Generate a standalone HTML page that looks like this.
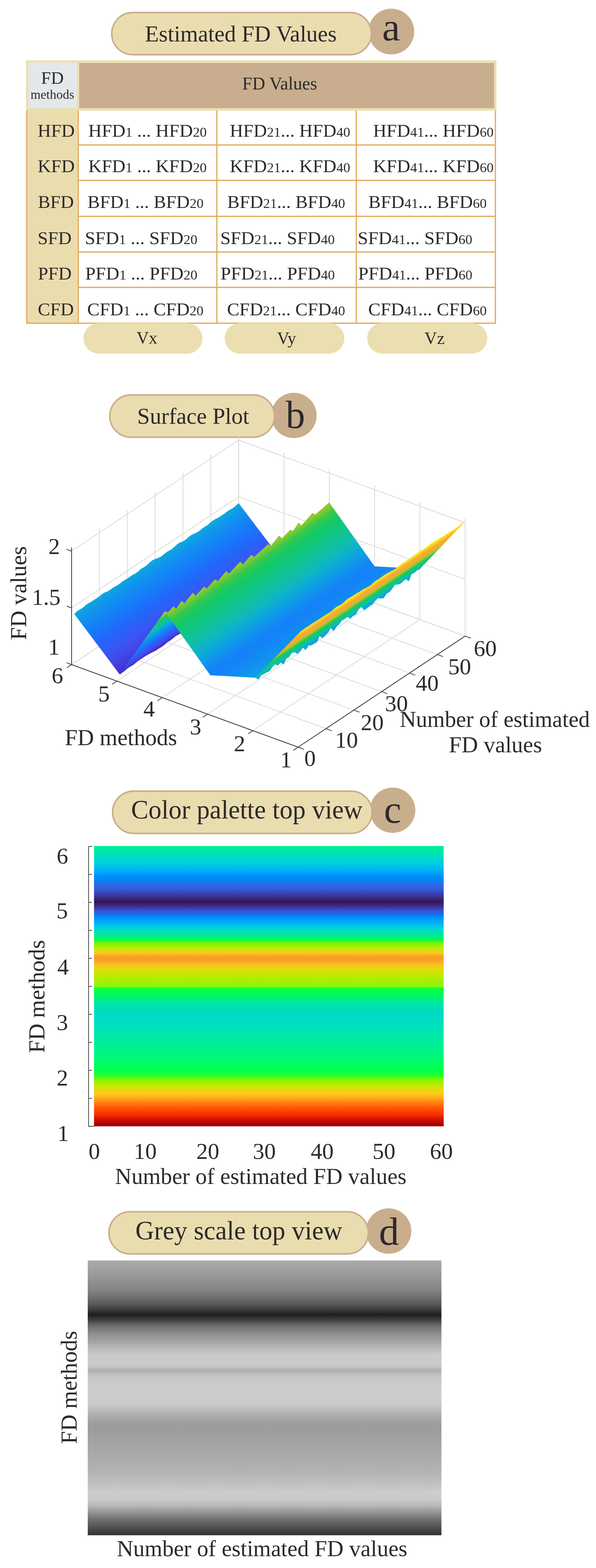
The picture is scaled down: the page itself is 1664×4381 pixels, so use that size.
<!DOCTYPE html>
<html><head><meta charset="utf-8"><title>FD figure</title>
<style>html,body{margin:0;padding:0;background:#fff;}svg{display:block;}</style></head>
<body><svg width="1664" height="4381" viewBox="0 0 1664 4381" font-family='"Liberation Serif", "Times New Roman", serif'>
<defs><linearGradient id="g1" gradientUnits="userSpaceOnUse" x1="559.6" y1="1731.9" x2="443.3" y2="1557.1"><stop offset="0.00" stop-color="#4030c8"/><stop offset="0.10" stop-color="#433cde"/><stop offset="0.20" stop-color="#4249eb"/><stop offset="0.30" stop-color="#3b54f3"/><stop offset="0.40" stop-color="#2f5df8"/><stop offset="0.50" stop-color="#2367f9"/><stop offset="0.60" stop-color="#1b72f9"/><stop offset="0.70" stop-color="#157ef8"/><stop offset="0.80" stop-color="#1388f4"/><stop offset="0.90" stop-color="#1096eb"/><stop offset="1.00" stop-color="#0ca8dd"/></linearGradient><linearGradient id="g2" gradientUnits="userSpaceOnUse" x1="686.1" y1="1565.8" x2="723.8" y2="1622.6"><stop offset="0.00" stop-color="#96c82e"/><stop offset="0.10" stop-color="#1ec85d"/><stop offset="0.20" stop-color="#10c682"/><stop offset="0.30" stop-color="#10bea8"/><stop offset="0.40" stop-color="#0dadd2"/><stop offset="0.50" stop-color="#1191ef"/><stop offset="0.60" stop-color="#157ef8"/><stop offset="0.70" stop-color="#216afa"/><stop offset="0.80" stop-color="#3558f6"/><stop offset="0.90" stop-color="#4346e8"/><stop offset="1.00" stop-color="#4030c8"/></linearGradient><linearGradient id="g3" gradientUnits="userSpaceOnUse" x1="812.6" y1="1736.0" x2="695.2" y2="1559.7"><stop offset="0.00" stop-color="#1481f8"/><stop offset="0.10" stop-color="#128af3"/><stop offset="0.20" stop-color="#0f9be8"/><stop offset="0.30" stop-color="#0dabd6"/><stop offset="0.40" stop-color="#0fb7bd"/><stop offset="0.50" stop-color="#10bfa5"/><stop offset="0.60" stop-color="#10c48e"/><stop offset="0.70" stop-color="#11c679"/><stop offset="0.80" stop-color="#14c865"/><stop offset="0.90" stop-color="#38c849"/><stop offset="1.00" stop-color="#96c82e"/></linearGradient><linearGradient id="g4" gradientUnits="userSpaceOnUse" x1="939.1" y1="1749.6" x2="894.0" y2="1681.9"><stop offset="0.00" stop-color="#0ca6df"/><stop offset="0.10" stop-color="#0da2e3"/><stop offset="0.20" stop-color="#0e9de6"/><stop offset="0.30" stop-color="#0f98ea"/><stop offset="0.40" stop-color="#1093ed"/><stop offset="0.50" stop-color="#118ef0"/><stop offset="0.60" stop-color="#128bf3"/><stop offset="0.70" stop-color="#1388f4"/><stop offset="0.80" stop-color="#1386f5"/><stop offset="0.90" stop-color="#1383f6"/><stop offset="1.00" stop-color="#1481f8"/></linearGradient><linearGradient id="g5" gradientUnits="userSpaceOnUse" x1="1065.6" y1="1612.8" x2="1089.9" y2="1649.3"><stop offset="0.00" stop-color="#fae916"/><stop offset="0.10" stop-color="#facd28"/><stop offset="0.20" stop-color="#f8ad30"/><stop offset="0.30" stop-color="#f4a835"/><stop offset="0.40" stop-color="#ddb533"/><stop offset="0.50" stop-color="#95c82e"/><stop offset="0.60" stop-color="#27c856"/><stop offset="0.70" stop-color="#11c678"/><stop offset="0.80" stop-color="#10c298"/><stop offset="0.90" stop-color="#0fb8bb"/><stop offset="1.00" stop-color="#0ca6df"/></linearGradient><linearGradient id="hc" x1="0" y1="0" x2="0" y2="1"><stop offset="0.0003" stop-color="#00f090"/><stop offset="0.0347" stop-color="#00e0c0"/><stop offset="0.0608" stop-color="#00d0e0"/><stop offset="0.0869" stop-color="#00b0f8"/><stop offset="0.1079" stop-color="#0090f8"/><stop offset="0.1274" stop-color="#0080f8"/><stop offset="0.1300" stop-color="#2870e8"/><stop offset="0.1496" stop-color="#3060e0"/><stop offset="0.1651" stop-color="#3848c0"/><stop offset="0.1809" stop-color="#3a3090"/><stop offset="0.1992" stop-color="#341650"/><stop offset="0.2123" stop-color="#3a2880"/><stop offset="0.2225" stop-color="#3c40b0"/><stop offset="0.2327" stop-color="#3058d8"/><stop offset="0.2436" stop-color="#2868e8"/><stop offset="0.2461" stop-color="#0080f8"/><stop offset="0.2698" stop-color="#00a8f8"/><stop offset="0.2825" stop-color="#00c0f0"/><stop offset="0.2958" stop-color="#00d8d0"/><stop offset="0.3141" stop-color="#00e8a0"/><stop offset="0.3323" stop-color="#00f468"/><stop offset="0.3374" stop-color="#10ff40"/><stop offset="0.3412" stop-color="#60f010"/><stop offset="0.3610" stop-color="#b0f000"/><stop offset="0.3719" stop-color="#d8e010"/><stop offset="0.3808" stop-color="#f8c820"/><stop offset="0.3910" stop-color="#f8a828"/><stop offset="0.4013" stop-color="#f89c20"/><stop offset="0.4115" stop-color="#f8a828"/><stop offset="0.4230" stop-color="#f8c020"/><stop offset="0.4370" stop-color="#e8d810"/><stop offset="0.4549" stop-color="#c8e800"/><stop offset="0.4785" stop-color="#a8f000"/><stop offset="0.5021" stop-color="#88f410"/><stop offset="0.5072" stop-color="#10ff38"/><stop offset="0.5324" stop-color="#00f860"/><stop offset="0.5583" stop-color="#00e8a0"/><stop offset="0.5976" stop-color="#00d8c8"/><stop offset="0.6368" stop-color="#00e0c0"/><stop offset="0.6757" stop-color="#00e8a8"/><stop offset="0.7153" stop-color="#00f090"/><stop offset="0.7542" stop-color="#00f878"/><stop offset="0.7932" stop-color="#00ff50"/><stop offset="0.8213" stop-color="#20ff30"/><stop offset="0.8251" stop-color="#60f800"/><stop offset="0.8455" stop-color="#a8f000"/><stop offset="0.8634" stop-color="#d8e000"/><stop offset="0.8822" stop-color="#ffc820"/><stop offset="0.9004" stop-color="#ffa818"/><stop offset="0.9157" stop-color="#ff8010"/><stop offset="0.9369" stop-color="#ff5000"/><stop offset="0.9579" stop-color="#f83000"/><stop offset="0.9757" stop-color="#d01000"/><stop offset="0.9944" stop-color="#a00000"/><stop offset="1.0000" stop-color="#980000"/></linearGradient><linearGradient id="hd" x1="0" y1="0" x2="0" y2="1"><stop offset="0.0003" stop-color="#aaaaaa"/><stop offset="0.0247" stop-color="#a3a3a3"/><stop offset="0.0646" stop-color="#959595"/><stop offset="0.1046" stop-color="#858585"/><stop offset="0.1313" stop-color="#727272"/><stop offset="0.1580" stop-color="#5a5a5a"/><stop offset="0.1792" stop-color="#3c3c3c"/><stop offset="0.1978" stop-color="#1e1e1e"/><stop offset="0.2166" stop-color="#404040"/><stop offset="0.2378" stop-color="#6c6c6c"/><stop offset="0.2644" stop-color="#8c8c8c"/><stop offset="0.2908" stop-color="#a0a0a0"/><stop offset="0.3177" stop-color="#b8b8b8"/><stop offset="0.3442" stop-color="#cacaca"/><stop offset="0.3709" stop-color="#cccccc"/><stop offset="0.3885" stop-color="#c4c4c4"/><stop offset="0.3989" stop-color="#b0b0b0"/><stop offset="0.4041" stop-color="#b0b0b0"/><stop offset="0.4146" stop-color="#c0c0c0"/><stop offset="0.4276" stop-color="#c6c6c6"/><stop offset="0.4509" stop-color="#cbcbcb"/><stop offset="0.4908" stop-color="#cdcdcd"/><stop offset="0.5197" stop-color="#cccccc"/><stop offset="0.5461" stop-color="#bababa"/><stop offset="0.5729" stop-color="#a8a8a8"/><stop offset="0.5995" stop-color="#9c9c9c"/><stop offset="0.6262" stop-color="#9e9e9e"/><stop offset="0.6659" stop-color="#a4a4a4"/><stop offset="0.7193" stop-color="#ababab"/><stop offset="0.7727" stop-color="#b4b4b4"/><stop offset="0.8126" stop-color="#c0c0c0"/><stop offset="0.8392" stop-color="#cccccc"/><stop offset="0.8659" stop-color="#cccccc"/><stop offset="0.8926" stop-color="#b8b8b8"/><stop offset="0.9191" stop-color="#909090"/><stop offset="0.9458" stop-color="#6c6c6c"/><stop offset="0.9724" stop-color="#505050"/><stop offset="1.0000" stop-color="#303030"/></linearGradient></defs>
<rect width="1664" height="4381" fill="#fff"/>
<circle cx="1092.5" cy="88.2" r="64.0" fill="#c9ae8d"/>
<rect x="312.0" y="35.0" width="724.8" height="117.8" rx="58.9" fill="#e9ddb0" stroke="#c8ad8b" stroke-width="4.3"/>
<text x="404.8" y="116.0" font-size="64" fill="#2d2a2a" textLength="535.2" lengthAdjust="spacingAndGlyphs">Estimated FD Values</text>
<text x="1067.0" y="113.3" font-size="110" fill="#2d2a2a" textLength="49.9" lengthAdjust="spacingAndGlyphs">a</text>
<rect x="72.5" y="168.5" width="1313.5" height="141" fill="#ebe0b3"/>
<rect x="79.3" y="175.4" width="135" height="126.5" fill="#e5e8eb"/>
<rect x="221" y="176" width="1158.5" height="126.3" fill="#c8ae8e"/>
<text x="114.7" y="233.7" font-size="49" fill="#2d2a2a" textLength="63.2" lengthAdjust="spacingAndGlyphs">FD</text>
<text x="85.2" y="275.8" font-size="35" fill="#2d2a2a" textLength="122.2" lengthAdjust="spacingAndGlyphs">methods</text>
<text x="676.3" y="250.3" font-size="51" fill="#2d2a2a" textLength="209.3" lengthAdjust="spacingAndGlyphs">FD Values</text>
<rect x="74.5" y="309" width="144" height="594" fill="#ebdcae"/>
<line x1="218" y1="405" x2="1384" y2="405" stroke="#e2aa5c" stroke-width="3.4"/>
<line x1="218" y1="504" x2="1384" y2="504" stroke="#e2aa5c" stroke-width="3.4"/>
<line x1="218" y1="604.5" x2="1384" y2="604.5" stroke="#e2aa5c" stroke-width="3.4"/>
<line x1="218" y1="704" x2="1384" y2="704" stroke="#e2aa5c" stroke-width="3.4"/>
<line x1="218" y1="803" x2="1384" y2="803" stroke="#e2aa5c" stroke-width="3.4"/>
<line x1="73.5" y1="903" x2="1384.5" y2="903" stroke="#e2aa5c" stroke-width="3.4"/>
<line x1="74.7" y1="309" x2="74.7" y2="904.5" stroke="#e2aa5c" stroke-width="3.4"/>
<line x1="218.5" y1="309" x2="218.5" y2="904.5" stroke="#e2aa5c" stroke-width="3.4"/>
<line x1="605.5" y1="309" x2="605.5" y2="904.5" stroke="#e2aa5c" stroke-width="3.4"/>
<line x1="994.8" y1="309" x2="994.8" y2="904.5" stroke="#e2aa5c" stroke-width="3.4"/>
<line x1="1383" y1="309" x2="1383" y2="904.5" stroke="#e2aa5c" stroke-width="3.4"/>
<text x="105.1" y="381.6" font-size="51" fill="#2d2a2a" textLength="103.6" lengthAdjust="spacingAndGlyphs">HFD</text>
<text x="105.1" y="481.2" font-size="51" fill="#2d2a2a" textLength="103.6" lengthAdjust="spacingAndGlyphs">KFD</text>
<text x="106.0" y="581.1" font-size="51" fill="#2d2a2a" textLength="100.2" lengthAdjust="spacingAndGlyphs">BFD</text>
<text x="105.0" y="681.6" font-size="51" fill="#2d2a2a" textLength="95.0" lengthAdjust="spacingAndGlyphs">SFD</text>
<text x="106.0" y="780.7" font-size="51" fill="#2d2a2a" textLength="94.0" lengthAdjust="spacingAndGlyphs">PFD</text>
<text x="105.4" y="881.0" font-size="51" fill="#2d2a2a" textLength="100.9" lengthAdjust="spacingAndGlyphs">CFD</text>
<text x="246.4" y="381.6" font-size="51" fill="#2d2a2a" textLength="330.8" lengthAdjust="spacingAndGlyphs">HFD<tspan font-size="38">1</tspan> ... HFD<tspan font-size="38">20</tspan></text>
<text x="641.5" y="381.6" font-size="51" fill="#2d2a2a" textLength="336.3" lengthAdjust="spacingAndGlyphs">HFD<tspan font-size="38">21</tspan>... HFD<tspan font-size="38">40</tspan></text>
<text x="1041.7" y="381.6" font-size="51" fill="#2d2a2a" textLength="336.3" lengthAdjust="spacingAndGlyphs">HFD<tspan font-size="38">41</tspan>... HFD<tspan font-size="38">60</tspan></text>
<text x="246.4" y="481.2" font-size="51" fill="#2d2a2a" textLength="330.8" lengthAdjust="spacingAndGlyphs">KFD<tspan font-size="38">1</tspan> ... KFD<tspan font-size="38">20</tspan></text>
<text x="641.5" y="481.2" font-size="51" fill="#2d2a2a" textLength="336.3" lengthAdjust="spacingAndGlyphs">KFD<tspan font-size="38">21</tspan>... KFD<tspan font-size="38">40</tspan></text>
<text x="1041.7" y="481.2" font-size="51" fill="#2d2a2a" textLength="336.3" lengthAdjust="spacingAndGlyphs">KFD<tspan font-size="38">41</tspan>... KFD<tspan font-size="38">60</tspan></text>
<text x="244.2" y="581.1" font-size="51" fill="#2d2a2a" textLength="324.0" lengthAdjust="spacingAndGlyphs">BFD<tspan font-size="38">1</tspan> ... BFD<tspan font-size="38">20</tspan></text>
<text x="634.5" y="581.1" font-size="51" fill="#2d2a2a" textLength="328.9" lengthAdjust="spacingAndGlyphs">BFD<tspan font-size="38">21</tspan>... BFD<tspan font-size="38">40</tspan></text>
<text x="1028.5" y="581.1" font-size="51" fill="#2d2a2a" textLength="330.3" lengthAdjust="spacingAndGlyphs">BFD<tspan font-size="38">41</tspan>... BFD<tspan font-size="38">60</tspan></text>
<text x="236.9" y="681.6" font-size="51" fill="#2d2a2a" textLength="314.2" lengthAdjust="spacingAndGlyphs">SFD<tspan font-size="38">1</tspan> ... SFD<tspan font-size="38">20</tspan></text>
<text x="614.9" y="681.6" font-size="51" fill="#2d2a2a" textLength="319.8" lengthAdjust="spacingAndGlyphs">SFD<tspan font-size="38">21</tspan>... SFD<tspan font-size="38">40</tspan></text>
<text x="998.8" y="681.6" font-size="51" fill="#2d2a2a" textLength="319.8" lengthAdjust="spacingAndGlyphs">SFD<tspan font-size="38">41</tspan>... SFD<tspan font-size="38">60</tspan></text>
<text x="238.0" y="780.7" font-size="51" fill="#2d2a2a" textLength="313.1" lengthAdjust="spacingAndGlyphs">PFD<tspan font-size="38">1</tspan> ... PFD<tspan font-size="38">20</tspan></text>
<text x="615.7" y="780.7" font-size="51" fill="#2d2a2a" textLength="319.1" lengthAdjust="spacingAndGlyphs">PFD<tspan font-size="38">21</tspan>... PFD<tspan font-size="38">40</tspan></text>
<text x="1000.0" y="780.7" font-size="51" fill="#2d2a2a" textLength="318.7" lengthAdjust="spacingAndGlyphs">PFD<tspan font-size="38">41</tspan>... PFD<tspan font-size="38">60</tspan></text>
<text x="243.6" y="881.0" font-size="51" fill="#2d2a2a" textLength="324.6" lengthAdjust="spacingAndGlyphs">CFD<tspan font-size="38">1</tspan> ... CFD<tspan font-size="38">20</tspan></text>
<text x="633.9" y="881.0" font-size="51" fill="#2d2a2a" textLength="329.6" lengthAdjust="spacingAndGlyphs">CFD<tspan font-size="38">21</tspan>... CFD<tspan font-size="38">40</tspan></text>
<text x="1027.9" y="881.0" font-size="51" fill="#2d2a2a" textLength="330.9" lengthAdjust="spacingAndGlyphs">CFD<tspan font-size="38">41</tspan>... CFD<tspan font-size="38">60</tspan></text>
<rect x="233.0" y="902.5" width="332.5" height="85.5" rx="42.8" fill="#ebdfb1"/>
<rect x="627.0" y="902.5" width="334.5" height="85.5" rx="42.8" fill="#ebdfb1"/>
<rect x="1025.0" y="902.5" width="335.5" height="85.5" rx="42.8" fill="#ebdfb1"/>
<text x="381.2" y="960.4" font-size="48" fill="#2d2a2a" textLength="58.0" lengthAdjust="spacingAndGlyphs">Vx</text>
<text x="773.8" y="961.0" font-size="48" fill="#2d2a2a" textLength="52.7" lengthAdjust="spacingAndGlyphs">Vy</text>
<text x="1185.0" y="960.5" font-size="48" fill="#2d2a2a" textLength="56.4" lengthAdjust="spacingAndGlyphs">Vz</text>
<circle cx="820.6" cy="1160.8" r="63.4" fill="#c9ae8d"/>
<rect x="306.6" y="1103.5" width="459.7" height="118.1" rx="59.1" fill="#e9ddb0" stroke="#c8ad8b" stroke-width="4.3"/>
<text x="383.1" y="1183.5" font-size="64" fill="#2d2a2a" textLength="312.6" lengthAdjust="spacingAndGlyphs">Surface Plot</text>
<text x="797.7" y="1195.5" font-size="110" fill="#2d2a2a" textLength="54.0" lengthAdjust="spacingAndGlyphs">b</text>
<circle cx="1096.2" cy="2263.8" r="63.4" fill="#c9ae8d"/>
<rect x="314.4" y="2210.5" width="724.4" height="118.0" rx="59.0" fill="#e9ddb0" stroke="#c8ad8b" stroke-width="4.3"/>
<text x="366.1" y="2286.8" font-size="73" fill="#2d2a2a" textLength="646.0" lengthAdjust="spacingAndGlyphs">Color palette top view</text>
<text x="1071.9" y="2298.5" font-size="110" fill="#2d2a2a" textLength="48.1" lengthAdjust="spacingAndGlyphs">c</text>
<circle cx="1085.0" cy="3439.6" r="63.5" fill="#c9ae8d"/>
<rect x="304.2" y="3385.7" width="724.2" height="117.8" rx="58.9" fill="#e9ddb0" stroke="#c8ad8b" stroke-width="4.3"/>
<text x="377.9" y="3462.5" font-size="73" fill="#2d2a2a" textLength="577.8" lengthAdjust="spacingAndGlyphs">Grey scale top view</text>
<text x="1058.1" y="3477.5" font-size="110" fill="#2d2a2a" textLength="56.2" lengthAdjust="spacingAndGlyphs">d</text>
<line x1="832.4" y1="2087.5" x2="1298.7" y2="1777.2" stroke="#d8d8d8" stroke-width="2.0"/>
<line x1="705.9" y1="2041.4" x2="1172.2" y2="1731.1" stroke="#d8d8d8" stroke-width="2.0"/>
<line x1="579.4" y1="1995.3" x2="1045.7" y2="1684.9" stroke="#d8d8d8" stroke-width="2.0"/>
<line x1="452.9" y1="1949.1" x2="919.2" y2="1638.8" stroke="#d8d8d8" stroke-width="2.0"/>
<line x1="326.4" y1="1903.0" x2="792.7" y2="1592.7" stroke="#d8d8d8" stroke-width="2.0"/>
<line x1="199.9" y1="1856.9" x2="666.2" y2="1546.6" stroke="#d8d8d8" stroke-width="2.0"/>
<line x1="832.4" y1="2087.5" x2="199.9" y2="1856.9" stroke="#d8d8d8" stroke-width="2.0"/>
<line x1="910.1" y1="2035.8" x2="277.6" y2="1805.2" stroke="#d8d8d8" stroke-width="2.0"/>
<line x1="987.8" y1="1984.1" x2="355.3" y2="1753.5" stroke="#d8d8d8" stroke-width="2.0"/>
<line x1="1065.6" y1="1932.3" x2="433.1" y2="1701.7" stroke="#d8d8d8" stroke-width="2.0"/>
<line x1="1143.3" y1="1880.6" x2="510.8" y2="1650.0" stroke="#d8d8d8" stroke-width="2.0"/>
<line x1="1221.0" y1="1828.9" x2="588.5" y2="1598.3" stroke="#d8d8d8" stroke-width="2.0"/>
<line x1="1298.7" y1="1777.2" x2="666.2" y2="1546.6" stroke="#d8d8d8" stroke-width="2.0"/>
<line x1="199.9" y1="1856.9" x2="199.9" y2="1528.3" stroke="#d8d8d8" stroke-width="2.0"/>
<line x1="277.6" y1="1805.2" x2="277.6" y2="1476.6" stroke="#d8d8d8" stroke-width="2.0"/>
<line x1="355.3" y1="1753.5" x2="355.3" y2="1424.8" stroke="#d8d8d8" stroke-width="2.0"/>
<line x1="433.1" y1="1701.7" x2="433.1" y2="1373.1" stroke="#d8d8d8" stroke-width="2.0"/>
<line x1="510.8" y1="1650.0" x2="510.8" y2="1321.4" stroke="#d8d8d8" stroke-width="2.0"/>
<line x1="588.5" y1="1598.3" x2="588.5" y2="1269.7" stroke="#d8d8d8" stroke-width="2.0"/>
<line x1="666.2" y1="1546.6" x2="666.2" y2="1218.0" stroke="#d8d8d8" stroke-width="2.0"/>
<line x1="199.9" y1="1856.9" x2="666.2" y2="1546.6" stroke="#d8d8d8" stroke-width="2.0"/>
<line x1="199.9" y1="1698.5" x2="666.2" y2="1388.1" stroke="#d8d8d8" stroke-width="2.0"/>
<line x1="199.9" y1="1540.0" x2="666.2" y2="1229.7" stroke="#d8d8d8" stroke-width="2.0"/>
<line x1="1298.7" y1="1777.2" x2="1298.7" y2="1448.6" stroke="#d8d8d8" stroke-width="2.0"/>
<line x1="1172.2" y1="1731.1" x2="1172.2" y2="1402.4" stroke="#d8d8d8" stroke-width="2.0"/>
<line x1="1045.7" y1="1684.9" x2="1045.7" y2="1356.3" stroke="#d8d8d8" stroke-width="2.0"/>
<line x1="919.2" y1="1638.8" x2="919.2" y2="1310.2" stroke="#d8d8d8" stroke-width="2.0"/>
<line x1="792.7" y1="1592.7" x2="792.7" y2="1264.1" stroke="#d8d8d8" stroke-width="2.0"/>
<line x1="666.2" y1="1546.6" x2="666.2" y2="1218.0" stroke="#d8d8d8" stroke-width="2.0"/>
<line x1="1298.7" y1="1777.2" x2="666.2" y2="1546.6" stroke="#d8d8d8" stroke-width="2.0"/>
<line x1="1298.7" y1="1618.7" x2="666.2" y2="1388.1" stroke="#d8d8d8" stroke-width="2.0"/>
<line x1="1298.7" y1="1460.3" x2="666.2" y2="1229.7" stroke="#d8d8d8" stroke-width="2.0"/>
<polygon points="334.2,1883.9 341.9,1878.7 349.7,1872.6 357.5,1865.8 365.3,1861.1 373.0,1856.5 380.8,1849.7 388.6,1843.9 396.3,1839.1 404.1,1833.7 411.9,1829.2 419.7,1824.9 427.4,1820.9 435.2,1817.1 443.0,1811.8 450.8,1807.3 458.5,1801.7 466.3,1794.6 474.1,1789.8 481.8,1784.1 489.6,1777.4 497.4,1773.0 505.2,1768.9 512.9,1763.2 520.7,1756.9 528.5,1752.2 536.2,1748.6 544.0,1743.6 551.8,1738.8 559.6,1733.0 567.3,1726.1 575.1,1720.8 582.9,1715.6 590.6,1709.0 598.4,1703.7 606.2,1700.0 614.0,1695.4 621.7,1690.3 629.5,1684.9 637.3,1679.5 645.1,1674.8 652.8,1670.0 660.6,1663.8 668.4,1657.1 676.1,1651.5 683.9,1645.9 691.7,1641.7 699.5,1638.9 707.2,1633.0 715.0,1625.5 722.8,1621.6 730.5,1620.0 738.3,1615.9 746.1,1610.1 753.9,1605.5 761.6,1600.8 769.4,1594.6 777.2,1586.7 784.9,1579.3 792.7,1573.3 666.2,1406.2 658.4,1413.2 650.7,1419.7 642.9,1424.0 635.1,1428.9 627.4,1434.9 619.6,1440.0 611.8,1445.3 604.0,1449.5 596.3,1453.4 588.5,1459.3 580.7,1466.6 573.0,1471.5 565.2,1476.2 557.4,1483.2 549.6,1488.3 541.9,1491.4 534.1,1495.2 526.3,1500.8 518.6,1508.0 510.8,1513.1 503.0,1515.8 495.2,1520.5 487.5,1527.9 479.7,1534.8 471.9,1539.1 464.1,1543.5 456.4,1550.0 448.6,1556.1 440.8,1559.8 433.1,1562.3 425.3,1566.1 417.5,1572.7 409.7,1580.1 402.0,1585.1 394.2,1589.6 386.4,1596.2 378.7,1602.4 370.9,1606.3 363.1,1611.3 355.3,1616.9 347.6,1621.2 339.8,1626.8 332.0,1632.9 324.3,1637.5 316.5,1641.8 308.7,1647.5 300.9,1652.6 293.2,1655.4 285.4,1659.7 277.6,1666.6 269.8,1672.1 262.1,1676.7 254.3,1682.2 246.5,1686.0 238.8,1691.5 231.0,1698.7 223.2,1703.2 215.4,1708.2 207.7,1715.4" fill="url(#g1)" stroke="url(#g1)" stroke-width="0.8" stroke-linejoin="round"/>
<polygon points="460.7,1707.9 468.4,1712.2 476.2,1703.7 484.0,1694.5 491.8,1701.5 499.5,1690.5 507.3,1679.5 515.1,1685.9 522.8,1676.1 530.6,1666.3 538.4,1656.5 546.2,1665.2 553.9,1656.7 561.7,1648.2 569.5,1639.7 577.3,1644.6 585.0,1636.2 592.8,1627.7 600.6,1619.3 608.3,1623.9 616.1,1614.7 623.9,1605.4 631.7,1596.2 639.4,1603.2 647.2,1594.8 655.0,1586.4 662.7,1578.0 670.5,1569.6 678.3,1577.3 686.1,1568.5 693.8,1559.6 701.6,1550.7 709.4,1556.6 717.1,1549.5 724.9,1542.5 732.7,1535.4 740.5,1528.3 748.2,1521.2 756.0,1525.6 763.8,1516.0 771.6,1506.5 779.3,1496.9 787.1,1504.9 794.9,1496.8 802.6,1488.7 810.4,1480.6 818.2,1484.2 826.0,1472.7 833.7,1461.1 841.5,1468.7 849.3,1460.0 857.0,1451.3 864.8,1442.6 872.6,1433.9 880.4,1438.1 888.1,1431.3 895.9,1424.6 903.7,1417.8 911.4,1410.9 919.2,1404.3 792.7,1573.3 784.9,1579.3 777.2,1586.7 769.4,1594.6 761.6,1600.8 753.9,1605.5 746.1,1610.1 738.3,1615.9 730.5,1620.0 722.8,1621.6 715.0,1625.5 707.2,1633.0 699.5,1638.9 691.7,1641.7 683.9,1645.9 676.1,1651.5 668.4,1657.1 660.6,1663.8 652.8,1670.0 645.1,1674.8 637.3,1679.5 629.5,1684.9 621.7,1690.3 614.0,1695.4 606.2,1700.0 598.4,1703.7 590.6,1709.0 582.9,1715.6 575.1,1720.8 567.3,1726.1 559.6,1733.0 551.8,1738.8 544.0,1743.6 536.2,1748.6 528.5,1752.2 520.7,1756.9 512.9,1763.2 505.2,1768.9 497.4,1773.0 489.6,1777.4 481.8,1784.1 474.1,1789.8 466.3,1794.6 458.5,1801.7 450.8,1807.3 443.0,1811.8 435.2,1817.1 427.4,1820.9 419.7,1824.9 411.9,1829.2 404.1,1833.7 396.3,1839.1 388.6,1843.9 380.8,1849.7 373.0,1856.5 365.3,1861.1 357.5,1865.8 349.7,1872.6 341.9,1878.7 334.2,1883.9" fill="url(#g2)" stroke="url(#g2)" stroke-width="0.8" stroke-linejoin="round"/>
<polygon points="587.2,1886.2 594.9,1881.5 602.7,1876.4 610.5,1870.9 618.3,1866.7 626.0,1862.2 633.8,1856.6 641.6,1851.1 649.3,1845.9 657.1,1841.4 664.9,1836.6 672.7,1831.1 680.4,1825.5 688.2,1820.1 696.0,1814.2 703.8,1807.3 711.5,1802.4 719.3,1798.9 727.1,1794.0 734.8,1788.3 742.6,1783.3 750.4,1777.8 758.2,1770.4 765.9,1764.5 773.7,1760.7 781.5,1757.0 789.2,1753.0 797.0,1748.0 804.8,1742.2 812.6,1736.0 820.3,1730.2 828.1,1726.5 835.9,1721.3 843.6,1714.1 851.4,1709.4 859.2,1705.5 867.0,1700.5 874.7,1695.5 882.5,1688.9 890.3,1681.7 898.1,1676.4 905.8,1672.6 913.6,1668.9 921.4,1664.4 929.1,1658.8 936.9,1652.4 944.7,1646.6 952.5,1641.8 960.2,1637.8 968.0,1632.7 975.8,1625.6 983.5,1619.1 991.3,1614.2 999.1,1609.4 1006.9,1604.3 1014.6,1600.2 1022.4,1596.3 1030.2,1591.3 1037.9,1586.7 1045.7,1582.8 919.2,1404.3 911.4,1410.9 903.7,1417.8 895.9,1424.6 888.1,1431.3 880.4,1438.1 872.6,1433.9 864.8,1442.6 857.0,1451.3 849.3,1460.0 841.5,1468.7 833.7,1461.1 826.0,1472.7 818.2,1484.2 810.4,1480.6 802.6,1488.7 794.9,1496.8 787.1,1504.9 779.3,1496.9 771.6,1506.5 763.8,1516.0 756.0,1525.6 748.2,1521.2 740.5,1528.3 732.7,1535.4 724.9,1542.5 717.1,1549.5 709.4,1556.6 701.6,1550.7 693.8,1559.6 686.1,1568.5 678.3,1577.3 670.5,1569.6 662.7,1578.0 655.0,1586.4 647.2,1594.8 639.4,1603.2 631.7,1596.2 623.9,1605.4 616.1,1614.7 608.3,1623.9 600.6,1619.3 592.8,1627.7 585.0,1636.2 577.3,1644.6 569.5,1639.7 561.7,1648.2 553.9,1656.7 546.2,1665.2 538.4,1656.5 530.6,1666.3 522.8,1676.1 515.1,1685.9 507.3,1679.5 499.5,1690.5 491.8,1701.5 484.0,1694.5 476.2,1703.7 468.4,1712.2 460.7,1707.9" fill="url(#g3)" stroke="url(#g3)" stroke-width="0.8" stroke-linejoin="round"/>
<polygon points="713.7,1893.3 721.4,1898.1 729.2,1886.1 737.0,1882.8 744.8,1877.8 752.5,1874.9 760.3,1862.9 768.1,1855.8 775.8,1859.0 783.6,1850.5 791.4,1856.0 799.2,1839.5 806.9,1835.3 814.7,1824.0 822.5,1821.8 830.3,1826.2 838.0,1819.2 845.8,1809.0 853.6,1815.3 861.3,1802.4 869.1,1802.4 876.9,1798.1 884.7,1794.0 892.4,1776.2 900.2,1782.4 908.0,1775.1 915.7,1767.4 923.5,1753.7 931.3,1762.6 939.1,1750.9 946.8,1743.9 954.6,1732.8 962.4,1728.8 970.1,1722.8 977.9,1728.0 985.7,1720.4 993.5,1716.3 1001.2,1701.8 1009.0,1695.3 1016.8,1704.4 1024.6,1698.8 1032.3,1692.6 1040.1,1687.4 1047.9,1677.8 1055.6,1670.8 1063.4,1671.4 1071.2,1670.8 1079.0,1658.3 1086.7,1654.0 1094.5,1645.3 1102.3,1633.3 1110.0,1632.8 1117.8,1630.7 1125.6,1623.7 1133.4,1617.5 1141.1,1623.4 1148.9,1603.2 1156.7,1600.2 1164.4,1593.3 1172.2,1589.5 1045.7,1582.8 1037.9,1586.7 1030.2,1591.3 1022.4,1596.3 1014.6,1600.2 1006.9,1604.3 999.1,1609.4 991.3,1614.2 983.5,1619.1 975.8,1625.6 968.0,1632.7 960.2,1637.8 952.5,1641.8 944.7,1646.6 936.9,1652.4 929.1,1658.8 921.4,1664.4 913.6,1668.9 905.8,1672.6 898.1,1676.4 890.3,1681.7 882.5,1688.9 874.7,1695.5 867.0,1700.5 859.2,1705.5 851.4,1709.4 843.6,1714.1 835.9,1721.3 828.1,1726.5 820.3,1730.2 812.6,1736.0 804.8,1742.2 797.0,1748.0 789.2,1753.0 781.5,1757.0 773.7,1760.7 765.9,1764.5 758.2,1770.4 750.4,1777.8 742.6,1783.3 734.8,1788.3 727.1,1794.0 719.3,1798.9 711.5,1802.4 703.8,1807.3 696.0,1814.2 688.2,1820.1 680.4,1825.5 672.7,1831.1 664.9,1836.6 657.1,1841.4 649.3,1845.9 641.6,1851.1 633.8,1856.6 626.0,1862.2 618.3,1866.7 610.5,1870.9 602.7,1876.4 594.9,1881.5 587.2,1886.2" fill="url(#g4)" stroke="url(#g4)" stroke-width="0.8" stroke-linejoin="round"/>
<polygon points="840.2,1763.9 847.9,1758.5 855.7,1752.8 863.5,1748.0 871.3,1742.5 879.0,1737.7 886.8,1733.1 894.6,1727.7 902.3,1722.8 910.1,1717.7 917.9,1713.1 925.7,1707.9 933.4,1700.6 941.2,1694.6 949.0,1691.2 956.8,1686.2 964.5,1678.7 972.3,1672.2 980.1,1668.2 987.8,1663.3 995.6,1658.1 1003.4,1653.8 1011.2,1648.4 1018.9,1644.1 1026.7,1640.6 1034.5,1635.5 1042.2,1628.6 1050.0,1622.4 1057.8,1617.9 1065.6,1612.3 1073.3,1606.7 1081.1,1602.1 1088.9,1597.6 1096.6,1594.0 1104.4,1589.5 1112.2,1582.9 1120.0,1576.1 1127.7,1571.2 1135.5,1566.4 1143.3,1560.7 1151.1,1555.8 1158.8,1550.5 1166.6,1543.9 1174.4,1539.0 1182.1,1535.1 1189.9,1529.7 1197.7,1523.4 1205.5,1517.3 1213.2,1512.8 1221.0,1508.3 1228.8,1503.0 1236.5,1499.2 1244.3,1493.9 1252.1,1488.0 1259.9,1483.8 1267.6,1479.4 1275.4,1474.1 1283.2,1467.2 1290.9,1460.8 1298.7,1456.2 1172.2,1589.5 1164.4,1593.3 1156.7,1600.2 1148.9,1603.2 1141.1,1623.4 1133.4,1617.5 1125.6,1623.7 1117.8,1630.7 1110.0,1632.8 1102.3,1633.3 1094.5,1645.3 1086.7,1654.0 1079.0,1658.3 1071.2,1670.8 1063.4,1671.4 1055.6,1670.8 1047.9,1677.8 1040.1,1687.4 1032.3,1692.6 1024.6,1698.8 1016.8,1704.4 1009.0,1695.3 1001.2,1701.8 993.5,1716.3 985.7,1720.4 977.9,1728.0 970.1,1722.8 962.4,1728.8 954.6,1732.8 946.8,1743.9 939.1,1750.9 931.3,1762.6 923.5,1753.7 915.7,1767.4 908.0,1775.1 900.2,1782.4 892.4,1776.2 884.7,1794.0 876.9,1798.1 869.1,1802.4 861.3,1802.4 853.6,1815.3 845.8,1809.0 838.0,1819.2 830.3,1826.2 822.5,1821.8 814.7,1824.0 806.9,1835.3 799.2,1839.5 791.4,1856.0 783.6,1850.5 775.8,1859.0 768.1,1855.8 760.3,1862.9 752.5,1874.9 744.8,1877.8 737.0,1882.8 729.2,1886.1 721.4,1898.1 713.7,1893.3" fill="url(#g5)" stroke="url(#g5)" stroke-width="0.8" stroke-linejoin="round"/>
<line x1="199.9" y1="1856.9" x2="199.9" y2="1529.5" stroke="#333333" stroke-width="2.1"/>
<line x1="199.9" y1="1856.9" x2="832.4" y2="2087.5" stroke="#333333" stroke-width="2.1"/>
<line x1="832.4" y1="2087.5" x2="1298.7" y2="1777.2" stroke="#333333" stroke-width="2.1"/>
<line x1="199.9" y1="1856.9" x2="185.8" y2="1851.8" stroke="#333333" stroke-width="1.9"/>
<line x1="199.9" y1="1698.5" x2="185.8" y2="1693.3" stroke="#333333" stroke-width="1.9"/>
<line x1="199.9" y1="1540.0" x2="185.8" y2="1534.9" stroke="#333333" stroke-width="1.9"/>
<line x1="832.4" y1="2087.5" x2="819.1" y2="2096.4" stroke="#333333" stroke-width="1.9"/>
<line x1="705.9" y1="2041.4" x2="692.6" y2="2050.2" stroke="#333333" stroke-width="1.9"/>
<line x1="579.4" y1="1995.3" x2="566.1" y2="2004.1" stroke="#333333" stroke-width="1.9"/>
<line x1="452.9" y1="1949.1" x2="439.6" y2="1958.0" stroke="#333333" stroke-width="1.9"/>
<line x1="326.4" y1="1903.0" x2="313.1" y2="1911.9" stroke="#333333" stroke-width="1.9"/>
<line x1="199.9" y1="1856.9" x2="186.6" y2="1865.8" stroke="#333333" stroke-width="1.9"/>
<line x1="832.4" y1="2087.5" x2="848.4" y2="2093.3" stroke="#333333" stroke-width="1.9"/>
<line x1="910.1" y1="2035.8" x2="926.1" y2="2041.6" stroke="#333333" stroke-width="1.9"/>
<line x1="987.8" y1="1984.1" x2="1003.8" y2="1989.9" stroke="#333333" stroke-width="1.9"/>
<line x1="1065.6" y1="1932.3" x2="1081.5" y2="1938.2" stroke="#333333" stroke-width="1.9"/>
<line x1="1143.3" y1="1880.6" x2="1159.3" y2="1886.4" stroke="#333333" stroke-width="1.9"/>
<line x1="1221.0" y1="1828.9" x2="1237.0" y2="1834.7" stroke="#333333" stroke-width="1.9"/>
<line x1="1298.7" y1="1777.2" x2="1314.7" y2="1783.0" stroke="#333333" stroke-width="1.9"/>
<text x="135.2" y="1548.0" font-size="64" fill="#2d2a2a">2</text>
<text x="89.0" y="1689.6" font-size="64" fill="#2d2a2a">1.5</text>
<text x="134.4" y="1829.0" font-size="64" fill="#2d2a2a">1</text>
<text x="144.2" y="1909.0" font-size="64" fill="#2d2a2a">6</text>
<text x="274.3" y="1959.5" font-size="64" fill="#2d2a2a">5</text>
<text x="400.2" y="2002.4" font-size="64" fill="#2d2a2a">4</text>
<text x="529.9" y="2052.0" font-size="64" fill="#2d2a2a">3</text>
<text x="652.7" y="2098.6" font-size="64" fill="#2d2a2a">2</text>
<text x="782.4" y="2143.6" font-size="64" fill="#2d2a2a">1</text>
<text x="849.6" y="2139.5" font-size="64" fill="#2d2a2a">0</text>
<text x="935.4" y="2088.7" font-size="64" fill="#2d2a2a">10</text>
<text x="1007.2" y="2040.0" font-size="64" fill="#2d2a2a">20</text>
<text x="1074.9" y="1987.0" font-size="64" fill="#2d2a2a">30</text>
<text x="1160.8" y="1929.7" font-size="64" fill="#2d2a2a">40</text>
<text x="1251.3" y="1883.7" font-size="64" fill="#2d2a2a">50</text>
<text x="1322.8" y="1832.5" font-size="64" fill="#2d2a2a">60</text>
<text x="180.9" y="2082.0" font-size="64" fill="#2d2a2a" textLength="313.4" lengthAdjust="spacingAndGlyphs">FD methods</text>
<text x="1116.2" y="2031.0" font-size="64" fill="#2d2a2a" textLength="530.6" lengthAdjust="spacingAndGlyphs">Number of estimated</text>
<text x="1253.2" y="2102.0" font-size="64" fill="#2d2a2a" textLength="260.1" lengthAdjust="spacingAndGlyphs">FD values</text>
<text transform="translate(73.3,1786.5) rotate(-90)" x="-1.8" y="0" font-size="64" fill="#2d2a2a" textLength="262.2" lengthAdjust="spacingAndGlyphs">FD values</text>
<rect x="262.5" y="2363.7" width="976.2" height="783.3" fill="url(#hc)"/>
<path d="M262.5,3147.0 H247.3 V2365" fill="none" stroke="#333333" stroke-width="1.9"/>
<line x1="247.3" y1="3147.0" x2="257" y2="3147.0" stroke="#333333" stroke-width="1.9"/>
<line x1="247.3" y1="3068.8" x2="257" y2="3068.8" stroke="#333333" stroke-width="1.9"/>
<line x1="247.3" y1="2990.6" x2="257" y2="2990.6" stroke="#333333" stroke-width="1.9"/>
<line x1="247.3" y1="2912.4" x2="257" y2="2912.4" stroke="#333333" stroke-width="1.9"/>
<line x1="247.3" y1="2834.2" x2="257" y2="2834.2" stroke="#333333" stroke-width="1.9"/>
<line x1="247.3" y1="2756.0" x2="257" y2="2756.0" stroke="#333333" stroke-width="1.9"/>
<line x1="247.3" y1="2677.8" x2="257" y2="2677.8" stroke="#333333" stroke-width="1.9"/>
<line x1="247.3" y1="2599.6" x2="257" y2="2599.6" stroke="#333333" stroke-width="1.9"/>
<line x1="247.3" y1="2521.4" x2="257" y2="2521.4" stroke="#333333" stroke-width="1.9"/>
<line x1="247.3" y1="2443.2" x2="257" y2="2443.2" stroke="#333333" stroke-width="1.9"/>
<line x1="247.3" y1="2365.0" x2="257" y2="2365.0" stroke="#333333" stroke-width="1.9"/>
<line x1="232" y1="2366" x2="232" y2="3146" stroke="#cfcfcf" stroke-width="1.2" stroke-dasharray="6 70"/>
<text x="158.2" y="2412.8" font-size="64" fill="#2d2a2a">6</text>
<text x="157.6" y="2566.0" font-size="64" fill="#2d2a2a">5</text>
<text x="159.9" y="2723.3" font-size="64" fill="#2d2a2a">4</text>
<text x="157.9" y="2878.2" font-size="64" fill="#2d2a2a">3</text>
<text x="158.2" y="3033.1" font-size="64" fill="#2d2a2a">2</text>
<text x="160.2" y="3188.0" font-size="64" fill="#2d2a2a">1</text>
<text x="247.2" y="3237.5" font-size="64" fill="#2d2a2a">0</text>
<text x="373.4" y="3237.5" font-size="64" fill="#2d2a2a">10</text>
<text x="548.2" y="3237.5" font-size="64" fill="#2d2a2a">20</text>
<text x="705.9" y="3237.5" font-size="64" fill="#2d2a2a">30</text>
<text x="867.5" y="3237.5" font-size="64" fill="#2d2a2a">40</text>
<text x="1039.9" y="3237.5" font-size="64" fill="#2d2a2a">50</text>
<text x="1200.2" y="3237.5" font-size="64" fill="#2d2a2a">60</text>
<text x="321.2" y="3307.7" font-size="64" fill="#2d2a2a" textLength="813.6" lengthAdjust="spacingAndGlyphs">Number of estimated FD values</text>
<text transform="translate(123.6,2940.2) rotate(-90)" x="-1.9" y="0" font-size="64" fill="#2d2a2a" textLength="315.8" lengthAdjust="spacingAndGlyphs">FD methods</text>
<rect x="245" y="3521.7" width="987.5" height="767.8" fill="url(#hd)"/>
<text x="326.2" y="4347.8" font-size="64" fill="#2d2a2a" textLength="811.1" lengthAdjust="spacingAndGlyphs">Number of estimated FD values</text>
<text transform="translate(214.4,4032.3) rotate(-90)" x="-1.9" y="0" font-size="64" fill="#2d2a2a" textLength="315.8" lengthAdjust="spacingAndGlyphs">FD methods</text>
</svg></body></html>
